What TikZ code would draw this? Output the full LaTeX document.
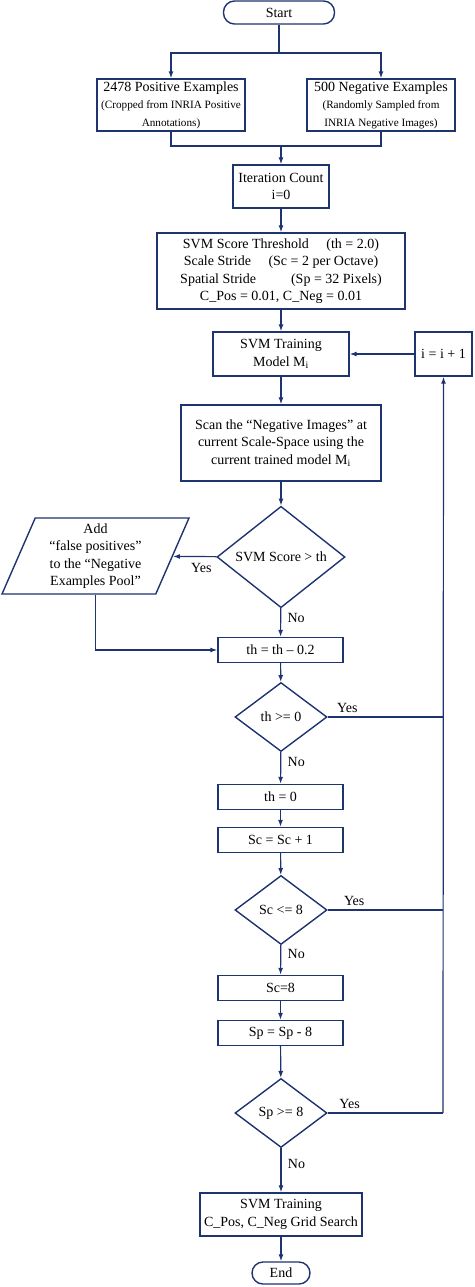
\documentclass[tikz,border=0pt]{standalone}
\usepackage{fontspec}
\setmainfont{Liberation Serif}
\usetikzlibrary{shapes.geometric,arrows.meta,calc,positioning}
\definecolor{navy}{RGB}{30,52,112}
\tikzset{
  arr/.style={-{Latex[length=7pt,width=5pt]}},
  proc/.style={draw=navy,line width=1.4pt,rectangle,align=center,inner sep=1pt},
  term/.style={draw=navy,line width=1.4pt,rectangle,rounded corners=11pt,align=center},
  dec/.style={draw=navy,line width=1.4pt,diamond,inner sep=0pt,align=center},
  io/.style={draw=navy,line width=1.4pt,trapezium,trapezium left angle=63,trapezium right angle=117,
    trapezium stretches body,align=center,inner sep=0pt},
  lbl/.style={font=\fontsize{14}{16}\selectfont}
}
\newcommand{\sml}{\fontsize{11.2}{15.5}\selectfont}

\begin{document}
\begin{tikzpicture}[x=1pt,y=-1pt,font=\fontsize{14}{17.5}\selectfont,line width=1.2pt,draw=navy]
\useasboundingbox (0,0) rectangle (474,1287);
% boxes
\node[term,minimum width=111,minimum height=23] (start) at (279,12.5) {Start};
\node[proc,minimum width=148,minimum height=52] (pos) at (171,105)
  {2478 Positive Examples\\ {\sml (Cropped from INRIA Positive}\\ {\sml Annotations)}};
\node[proc,minimum width=148,minimum height=52] (neg) at (381,105)
  {500 Negative Examples\\ {\sml (Randomly Sampled from}\\ {\sml INRIA Negative Images)}};
\node[proc,minimum width=96,minimum height=43] (iter) at (281,186.5) {Iteration Count\\ i=0};
\node[proc,minimum width=248,minimum height=76] (init) at (281,271)
  {SVM Score Threshold \quad (th = 2.0)\\ Scale Stride \quad (Sc = 2 per Octave)\\
   Spatial Stride \qquad\ (Sp = 32 Pixels)\\ C\_Pos = 0.01, C\_Neg = 0.01};
\node[proc,minimum width=136,minimum height=44] (train) at (281,354) {SVM Training\\ Model M\textsubscript{i}};
\node[proc,minimum width=57,minimum height=44] (inc) at (443.5,354) {i = i + 1};
\node[proc,minimum width=200,minimum height=76] (scan) at (281,443)
  {Scan the “Negative Images” at\\ current Scale-Space using the\\ current trained model M\textsubscript{i}};
\node[dec,minimum width=128,minimum height=96] (dsvm) at (281,557) {SVM Score > th};
\node[io,minimum width=187,minimum height=76] (add) at (95.5,556)
  {Add\\ “false positives”\\ to the “Negative\\ Examples Pool”};
\node[proc,minimum width=125,minimum height=25] (thm) at (280.5,650) {th = th -- 0.2};
\node[dec,minimum width=92,minimum height=69] (dth) at (281,717) {th >= 0};
\node[proc,minimum width=125,minimum height=25] (thz) at (280.5,797) {th = 0};
\node[proc,minimum width=125,minimum height=25] (scp) at (280.5,840) {Sc = Sc + 1};
\node[dec,minimum width=92,minimum height=69] (dsc) at (281,910) {Sc <= 8};
\node[proc,minimum width=125,minimum height=25] (sce) at (280.5,988) {Sc=8};
\node[proc,minimum width=125,minimum height=25] (spm) at (280.5,1033) {Sp = Sp - 8};
\node[dec,minimum width=92,minimum height=69] (dsp) at (281,1113) {Sp >= 8};
\node[proc,minimum width=162,minimum height=43] (final) at (281,1214.5) {SVM Training\\ C\_Pos, C\_Neg Grid Search};
\node[term,minimum width=58,minimum height=22] (stop) at (281,1273) {End};
% connectors
\coordinate (s1) at (279,53);
\coordinate (m1) at (281,146);
\coordinate (loop) at (443,1113);
\draw (start) -- (s1);
\draw[arr] (s1) -| (pos);
\draw[arr] (s1) -| (neg);
\draw (pos) |- (m1) -| (neg);
\draw[arr] (m1) -- (iter);
\draw[arr] (iter) -- (init);
\draw[arr] (init) -- (train);
\draw[arr] (inc) -- (train);
\draw[arr] (train) -- (scan);
\draw[arr] (scan) -- (dsvm);
\draw[arr] (dsvm) -- node[lbl,below,pos=0.35,yshift=-3pt]{Yes} (add);
\draw[arr] (add.south) |- (thm);
\draw[arr] (dsvm) -- node[lbl,right,pos=0.35,xshift=3pt]{No} (thm);
\draw[arr] (thm) -- (dth);
\draw (dth) -- node[lbl,above,pos=0.17]{Yes} (dth -| loop);
\draw[arr] (dth) -- node[lbl,right,pos=0.3,xshift=3pt]{No} (thz);
\draw[arr] (thz) -- (scp);
\draw[arr] (scp) -- (dsc);
\draw (dsc) -- node[lbl,above,pos=0.23]{Yes} (dsc -| loop);
\draw[arr] (dsc) -- node[lbl,right,pos=0.3,xshift=3pt]{No} (sce);
\draw[arr] (sce) -- (spm);
\draw[arr] (spm) -- (dsp);
\draw (dsp) -- node[lbl,above,pos=0.19]{Yes} (loop);
\draw[arr] (loop) -- (inc);
\draw[arr] (dsp) -- node[lbl,right,pos=0.35,xshift=3pt]{No} (final);
\draw[arr] (final) -- (stop);
\end{tikzpicture}
\end{document}
